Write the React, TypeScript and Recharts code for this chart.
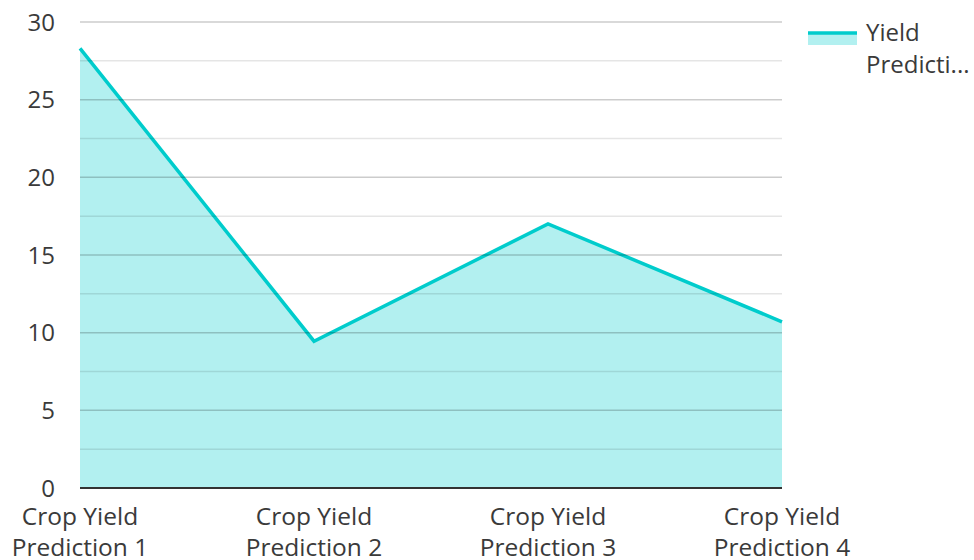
import React from "react";
import { AreaChart, Area, XAxis, YAxis, Legend, ReferenceLine } from "recharts";

const categories = ["Crop Yield Prediction 1", "Crop Yield Prediction 2", "Crop Yield Prediction 3", "Crop Yield Prediction 4"];
const yieldValues = [28.3, 9.45, 17.0, 10.7];
const yTicks = [0, 5, 10, 15, 20, 25, 30];
const minorGrid = [2.5, 7.5, 12.5, 17.5, 22.5, 27.5];
const seriesName = "Yield Prediction";

const data = categories.map((name, i) => ({ name, value: yieldValues[i] }));

const FONT = "'Open Sans', 'Noto Sans', sans-serif";
const TEXT = "#3a3a3a";
const TEAL = "#00cccc";

function XTick(props: any) {
  const { x, y, payload } = props;
  const words = String(payload.value).split(" ");
  const first = words.slice(0, 2).join(" ");
  const second = words.slice(2).join(" ");
  return (
    <text x={x} y={y} textAnchor="middle" fill={TEXT} fontSize={24.5} fontFamily={FONT}>
      <tspan x={x} dy={29}>{first}</tspan>
      <tspan x={x} dy={31}>{second}</tspan>
    </text>
  );
}

function LegendContent() {
  return (
    <div style={{ width: 166, height: 70, position: "relative", fontFamily: FONT, fontSize: 24, color: TEXT }}>
      <svg width={52} height={16} style={{ position: "absolute", left: 0, top: 17 }}>
        <rect x={0} y={2} width={49} height={12} fill={TEAL} fillOpacity={0.3} />
        <line x1={0} y1={2} x2={49} y2={2} stroke={TEAL} strokeWidth={3.5} />
      </svg>
      <div style={{ position: "absolute", left: 58, top: 2, lineHeight: "32px" }}>
        <div>Yield</div>
        <div>Predicti...</div>
      </div>
    </div>
  );
}

export default function App() {
  return (
    <div style={{ position: "absolute", left: 0, top: 0 }}>
      <AreaChart width={974} height={560} data={data} margin={{ top: 22, right: 26, bottom: 0, left: 0 }}>
        <XAxis
          dataKey="name"
          height={72}
          tickLine={false}
          axisLine={{ stroke: "#333", strokeWidth: 2 }}
          tick={<XTick />}
          interval={0}
        />
        <YAxis
          width={80}
          domain={[0, 30]}
          ticks={yTicks}
          axisLine={false}
          tickLine={false}
          tickMargin={19}
          tick={{ fill: TEXT, fontSize: 24, fontFamily: FONT }}
        />
        <Legend
          layout="vertical"
          align="right"
          verticalAlign="top"
          wrapperStyle={{ top: 14, right: 0, width: 166 }}
          content={<LegendContent />}
        />
        <Area
          type="linear"
          dataKey="value"
          name={seriesName}
          stroke={TEAL}
          strokeWidth={3.5}
          fill={TEAL}
          fillOpacity={0.3}
          dot={false}
          activeDot={false}
          isAnimationActive={false}
        />
        {minorGrid.map((v) => (
          <ReferenceLine key={"m" + v} y={v} stroke="#000" strokeOpacity={0.1} strokeWidth={1.5} />
        ))}
        {yTicks.filter((v) => v > 0).map((v) => (
          <ReferenceLine key={"M" + v} y={v} stroke="#000" strokeOpacity={0.2} strokeWidth={1.5} />
        ))}
      </AreaChart>
    </div>
  );
}
